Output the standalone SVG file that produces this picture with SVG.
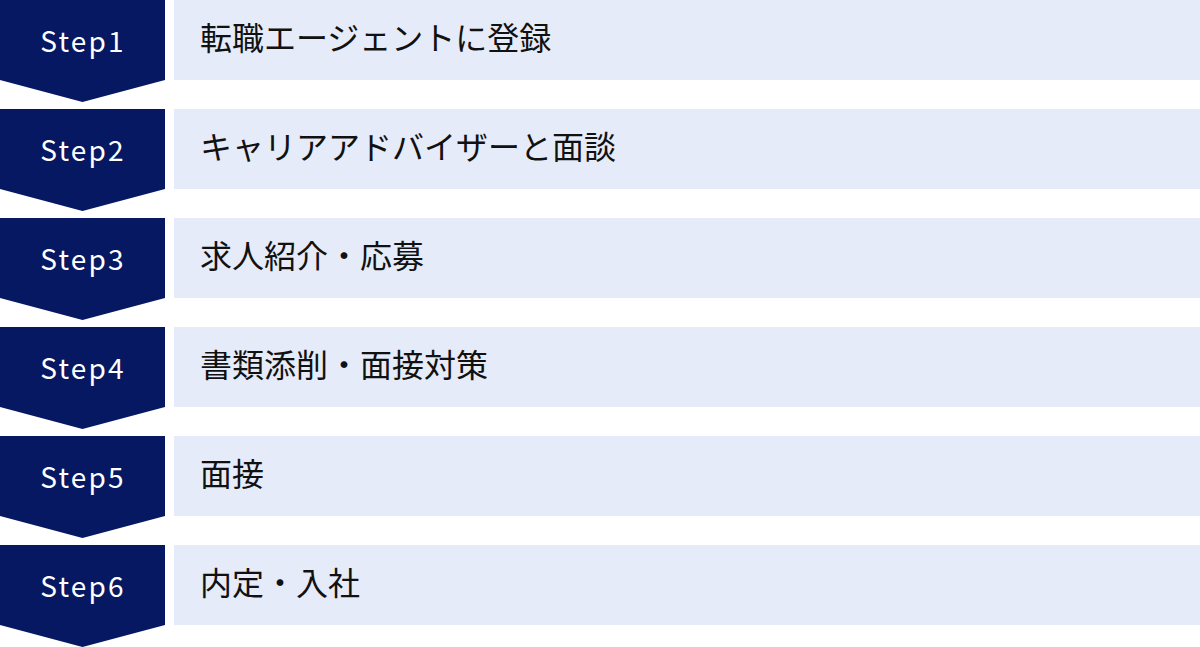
<svg xmlns="http://www.w3.org/2000/svg" width="1200" height="647" viewBox="0 0 1200 647">
<defs>
<style>
.badge{fill:#061862}
.bar{fill:#E5EBF8}
.step{font-family:"Noto Sans CJK JP","Noto Sans",sans-serif;font-size:28px;fill:#ffffff;text-anchor:middle;letter-spacing:2.2px}
.label{font-family:"Noto Sans CJK JP","Noto Sans",sans-serif;font-size:32px;fill:#111111}
</style>
<path id="chev" d="M0,0 H165 V80 L82.5,102 L0,80 Z"/>
</defs>
<rect width="1200" height="647" fill="#ffffff"/>
<g id="connectors"></g>
<g id="step1" transform="translate(0,0)">
<use href="#chev" class="badge"/>
<rect class="bar" x="174" y="0" width="1026" height="80"/>
<text class="step" x="83" y="52">Step1</text>
<text class="label" x="200" y="50">転職エージェントに登録</text>
</g>
<g id="step2" transform="translate(0,109)">
<use href="#chev" class="badge"/>
<rect class="bar" x="174" y="0" width="1026" height="80"/>
<text class="step" x="83" y="52">Step2</text>
<text class="label" x="200" y="50">キャリアアドバイザーと面談</text>
</g>
<g id="step3" transform="translate(0,218)">
<use href="#chev" class="badge"/>
<rect class="bar" x="174" y="0" width="1026" height="80"/>
<text class="step" x="83" y="52">Step3</text>
<text class="label" x="200" y="50">求人紹介・応募</text>
</g>
<g id="step4" transform="translate(0,327)">
<use href="#chev" class="badge"/>
<rect class="bar" x="174" y="0" width="1026" height="80"/>
<text class="step" x="83" y="52">Step4</text>
<text class="label" x="200" y="50">書類添削・面接対策</text>
</g>
<g id="step5" transform="translate(0,436)">
<use href="#chev" class="badge"/>
<rect class="bar" x="174" y="0" width="1026" height="80"/>
<text class="step" x="83" y="52">Step5</text>
<text class="label" x="200" y="50">面接</text>
</g>
<g id="step6" transform="translate(0,545)">
<use href="#chev" class="badge"/>
<rect class="bar" x="174" y="0" width="1026" height="80"/>
<text class="step" x="83" y="52">Step6</text>
<text class="label" x="200" y="50">内定・入社</text>
</g>
</svg>
